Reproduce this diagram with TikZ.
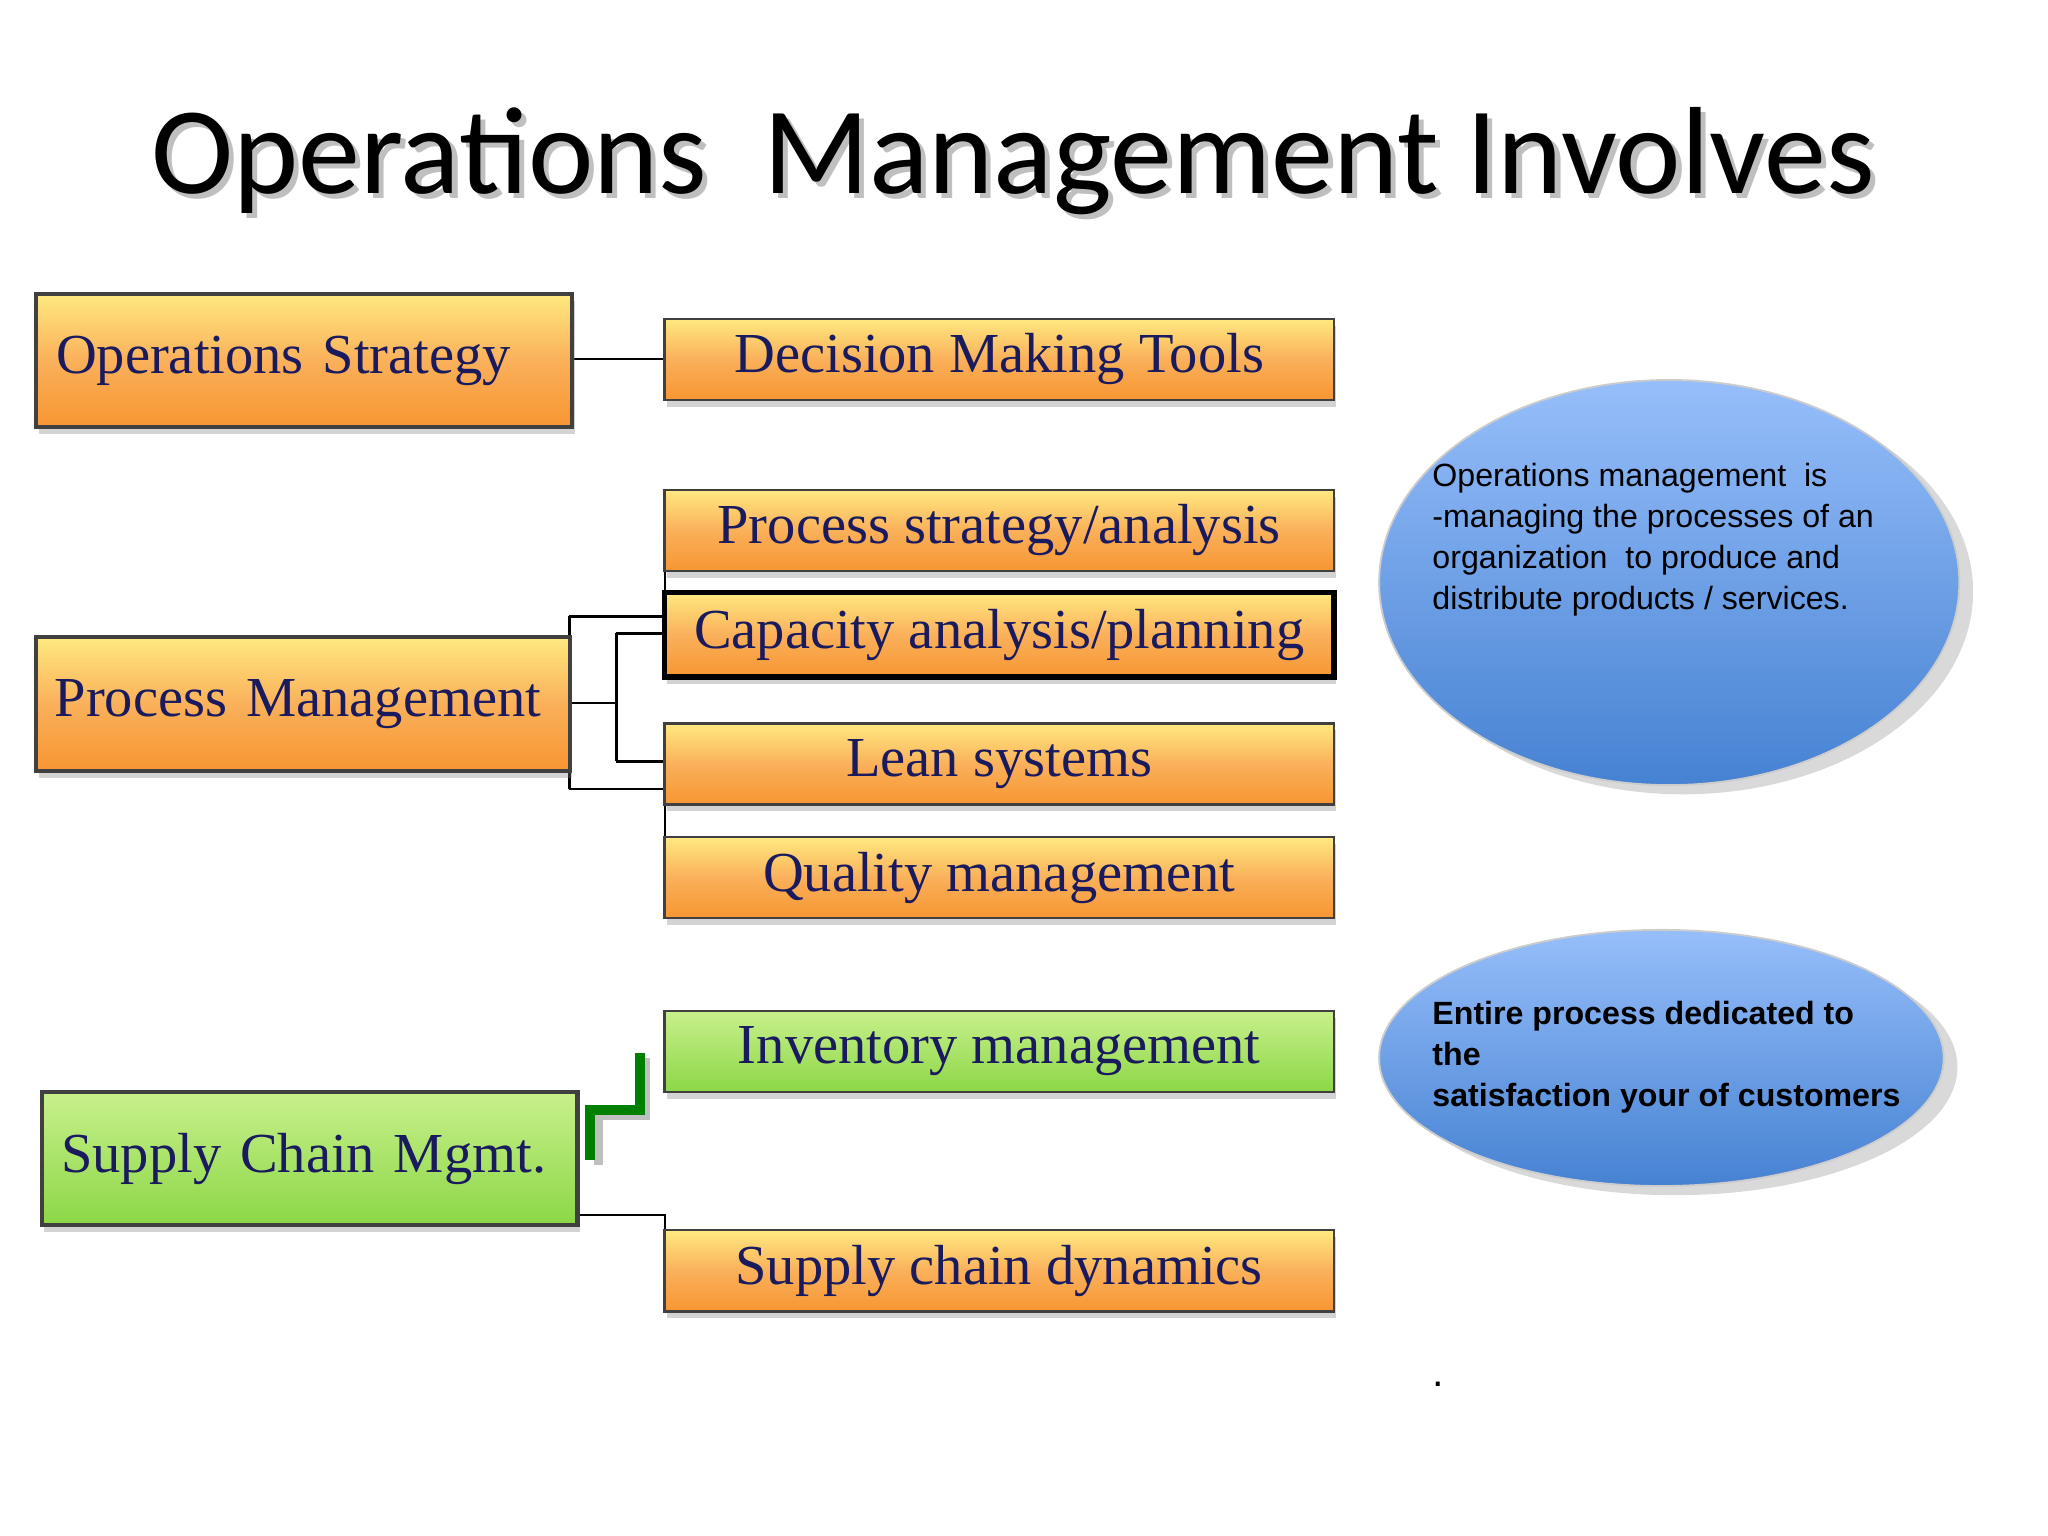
\documentclass[tikz,border=0pt]{standalone}
\usepackage{fontspec}
\setmainfont{Liberation Serif}
\newfontfamily\titlefont{Carlito}
\newfontfamily\arialfont{Liberation Sans}
\usetikzlibrary{shadows}
\definecolor{navy}{HTML}{1A1A5E}
\tikzset{
  obox/.style={draw=black!75, line width=0.5pt, top color=orange!35!yellow!50!white, bottom color={rgb,255:red,247;green,150;blue,50}, middle color={rgb,255:red,250;green,176;blue,90}, minimum height=0.62cm, minimum width=5.12cm, text=navy, font=\fontsize{12.3}{14}\selectfont, drop shadow={shadow xshift=0.5pt,shadow yshift=-1.5pt,opacity=0.35}, inner sep=0pt},
  gbox/.style={obox, top color={rgb,255:red,200;green,240;blue,140}, middle color={rgb,255:red,160;green,225;blue,90}, bottom color={rgb,255:red,140;green,215;blue,70}},
  bigbox/.style={minimum height=1.02cm, minimum width=4.1cm, line width=0.9pt, text width=3.8cm, align=left},
  ell/.style={ellipse, draw=black!20, line width=0.4pt, top color={rgb,255:red,150;green,190;blue,250}, bottom color={rgb,255:red,70;green,130;blue,210}, drop shadow={shadow xshift=3pt,shadow yshift=-2pt,opacity=0.3}},
  conn/.style={draw=black, line width=0.5pt}
}
\usetikzlibrary{shapes.geometric}
\begin{document}
\begin{tikzpicture}[x=0.01cm,y=-0.01cm]
\useasboundingbox (0,0) rectangle (1568,1176);
% title
\node[anchor=base west, font=\titlefont\fontsize{27}{30}\selectfont, text=black!25, inner sep=0] at (119,152) {Operations\ \ Management Involves};
\node[anchor=base west, font=\titlefont\fontsize{27}{30}\selectfont, text=black, inner sep=0] (title) at (115,148) {Operations\ \ Management Involves};
% connectors (behind boxes)
\draw[conn] (436,472) -- (436,604);
\draw[conn] (436,472) -- (509,472);
\draw[conn] (436,604) -- (509,604);
\draw[conn] (509,404) -- (509,472);
\draw[conn] (509,604) -- (509,670);
\draw[conn] (436,538) -- (472,538);
\draw[conn] (472,485) -- (472,583);
\draw[conn] (472,485) -- (509,485);
\draw[conn] (472,583) -- (509,583);
\draw[conn] (438,275) -- (509,275);
\draw[conn] (441,930) -- (509,930) -- (509,972);
% green bracket
\draw[black!25, line width=2pt] (494,810) -- (494,854) -- (458,854) -- (458,892);
\draw[green!50!black, line width=2.2pt] (490,806) -- (490,850) -- (452,850) -- (452,888);
% boxes
\node[obox, bigbox] (os) at (233,276) {Operations Strategy};
\node[obox, bigbox, minimum width=4.08cm] (pm) at (232,539) {Process Management};
\node[gbox, bigbox] (sc) at (237,887) {Supply Chain Mgmt.};
\node[obox] (dm) at (765,275) {Decision Making Tools};
\node[obox] (ps) at (765,406) {Process strategy/analysis};
\node[obox, line width=1.2pt, draw=black, minimum height=0.65cm] (ca) at (765,486) {Capacity analysis/planning};
\node[obox] (ls) at (765,585) {Lean systems};
\node[obox] (qm) at (765,672) {Quality management};
\node[gbox] (im) at (765,805) {Inventory management};
\node[obox] (sd) at (765,973) {Supply chain dynamics};
% ellipses
\node[ell, minimum width=4.44cm, minimum height=3.1cm] (e1) at (1278,446) {};
\node[anchor=north west, font=\arialfont\fontsize{7}{8.9}\selectfont, align=left, inner sep=0, text=black] (t1) at (1096,354) {Operations management\ \ is\\-managing the processes of an\\organization\ \ to produce and\\distribute products / services.};
\node[ell, minimum width=4.32cm, minimum height=1.96cm] (e2) at (1272,810) {};
\node[anchor=north west, font=\arialfont\bfseries\fontsize{7}{8.9}\selectfont, align=left, inner sep=0, text=black] (t2) at (1096,766) {Entire process dedicated to\\the\\satisfaction your of customers};
\node[font=\arialfont\fontsize{9}{10}\selectfont, inner sep=0] (dot) at (1101,1060) {.};
\end{tikzpicture}
\end{document}
